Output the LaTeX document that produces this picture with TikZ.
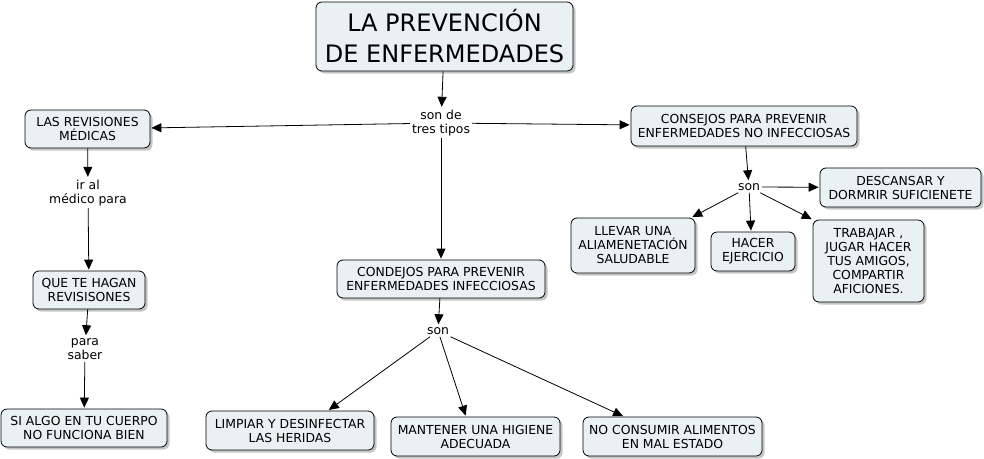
\documentclass[tikz,border=0pt]{standalone}
\usepackage{fontspec}
\setmainfont{DejaVu Sans}
\usetikzlibrary{arrows.meta,shadows}
\definecolor{boxfill}{RGB}{233,241,244}
\tikzset{
  box/.style={draw=black, line width=0.8pt, fill=boxfill, rounded corners=6pt,
    align=center, inner sep=1pt,
    font=\fontsize{12.4}{14}\selectfont,
    drop shadow={shadow xshift=2.5pt, shadow yshift=-2.5pt, fill=black!45}},
  lbl/.style={align=center, inner sep=2pt, font=\fontsize{12.4}{14}\selectfont},
  conn/.style={draw=black, line width=0.8pt, -{Triangle[length=10pt,width=9pt]}, shorten >=1pt}
}
\begin{document}
\begin{tikzpicture}[x=1pt,y=-1pt]
\useasboundingbox (0,0) rectangle (984,458);
% boxes
\node[box, minimum width=257, minimum height=69, font=\fontsize{24}{31}\selectfont] (title) at (444.5,36.5) {LA PREVENCIÓN\\DE ENFERMEDADES};
\node[box, minimum width=125, minimum height=38] (revis) at (87.5,129) {LAS REVISIONES\\MÉDICAS};
\node[box, minimum width=226, minimum height=40] (consejos) at (744,126) {CONSEJOS PARA PREVENIR\\ENFERMEDADES NO INFECCIOSAS};
\node[box, minimum width=208, minimum height=38] (condejos) at (441,279) {CONDEJOS PARA PREVENIR\\ENFERMEDADES INFECCIOSAS};
\node[box, minimum width=168, minimum height=39] (limpiar) at (290,430.5) {LIMPIAR Y DESINFECTAR\\LAS HERIDAS};
\node[box, minimum width=169, minimum height=39] (mantener) at (475.5,436.5) {MANTENER UNA HIGIENE\\ADECUADA};
\node[box, minimum width=179, minimum height=39] (noconsumir) at (672.5,436.5) {NO CONSUMIR ALIMENTOS\\EN MAL ESTADO};
\node[box, minimum width=112, minimum height=38] (quete) at (89,290) {QUE TE HAGAN\\REVISISONES};
\node[box, minimum width=166, minimum height=38] (sialgo) at (84,428) {SI ALGO EN TU CUERPO\\NO FUNCIONA BIEN};
\node[box, minimum width=161, minimum height=39] (descansar) at (900.5,187.5) {DESCANSAR Y\\DORMRIR SUFICIENETE};
\node[box, minimum width=124, minimum height=55] (llevar) at (633,245.5) {LLEVAR UNA\\ALIAMENETACIÓN\\SALUDABLE};
\node[box, minimum width=84, minimum height=39] (hacer) at (753,251.5) {HACER\\EJERCICIO};
\node[box, minimum width=111, minimum height=82] (trabajar) at (868.5,261) {TRABAJAR ,\\JUGAR HACER\\TUS AMIGOS,\\COMPARTIR\\AFICIONES.};
% labels
\node[lbl] (tipos) at (441,123) {son de\\tres tipos};
\node[lbl] (iral) at (88,193) {ir al\\médico para};
\node[lbl] (para) at (85,349) {para\\saber};
\node[lbl] (son1) at (438,331) {son};
\node[lbl] (son2) at (749,187) {son};
% connectors
\draw[conn] (title) -- (tipos);
\draw[conn] (tipos) -- (revis);
\draw[conn] (tipos) -- (consejos);
\draw[conn] (tipos) -- (condejos);
\draw[conn] (revis) -- (iral);
\draw[conn] (iral) -- (quete);
\draw[conn] (quete) -- (para);
\draw[conn] (para) -- (sialgo);
\draw[conn] (condejos) -- (son1);
\draw[conn] (son1) -- ([xshift=38pt]limpiar.north);
\draw[conn] (son1) -- ([xshift=-9.5pt]mantener.north);
\draw[conn] (son1) -- ([xshift=-48.5pt]noconsumir.north);
\draw[conn] (consejos) -- (son2);
\draw[conn] (son2) -- (descansar);
\draw[conn] (son2) -- ([xshift=-4pt]llevar.north east);
\draw[conn] (son2) -- ([xshift=-2pt]hacer.north);
\draw[conn] (son2) -- (trabajar.north west);
\end{tikzpicture}
\end{document}
